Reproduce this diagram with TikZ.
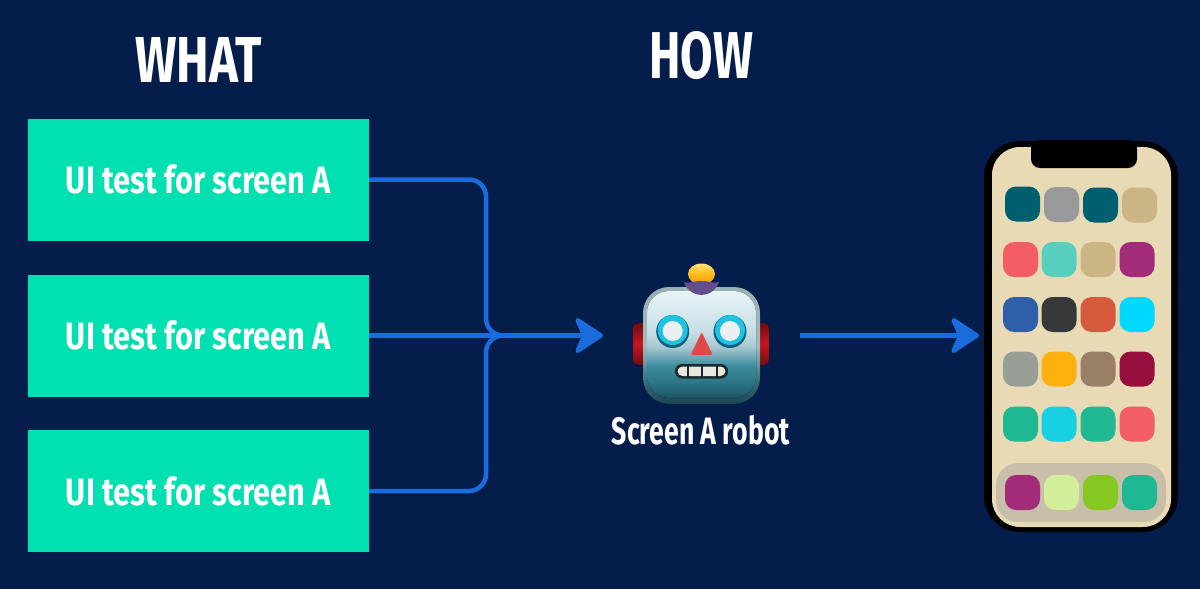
\documentclass[tikz,border=0pt]{standalone}
\usepackage{fontspec}
\setmainfont{Fira Sans}
\usetikzlibrary{arrows.meta}
\definecolor{bgc}{HTML}{051D4B}
\definecolor{boxc}{HTML}{00E0B1}
\definecolor{linec}{HTML}{1A6BDB}
\definecolor{cream}{HTML}{E8DAB5}
\definecolor{ha}{HTML}{1E5564}
\definecolor{hb}{HTML}{2C7486}
\definecolor{hc}{HTML}{3C8C9E}
\definecolor{hd}{HTML}{A8C8D0}
\definecolor{he}{HTML}{C8DEE4}
\definecolor{hf}{HTML}{E6F4F7}
\definecolor{oa}{HTML}{1A4550}
\definecolor{ob}{HTML}{3F7A88}
\definecolor{oc}{HTML}{A4BCC0}
\definecolor{oe}{HTML}{96B0B4}
\definecolor{ra}{HTML}{6E0C10}
\definecolor{rb}{HTML}{C8161C}
\definecolor{ya}{HTML}{F49A10}
\definecolor{yb}{HTML}{FFBE1E}
\definecolor{yc}{HTML}{FFE27A}
\pgfdeclareverticalshading{headout}{100bp}{color(0bp)=(oa);color(25bp)=(oa);color(37bp)=(ob);color(50bp)=(oc);color(75bp)=(oe);color(100bp)=(oe)}
\pgfdeclareverticalshading{headin}{100bp}{color(0bp)=(ha);color(25bp)=(ha);color(32bp)=(hb);color(40bp)=(hc);color(49bp)=(hd);color(56bp)=(he);color(75bp)=(hf);color(100bp)=(hf)}
\pgfdeclareverticalshading{orangeball}{100bp}{color(0bp)=(ya);color(25bp)=(ya);color(52bp)=(yb);color(75bp)=(yc);color(100bp)=(yc)}
\pgfdeclareverticalshading{eardark}{100bp}{color(0bp)=(ra);color(25bp)=(ra);color(50bp)=(rb);color(75bp)=(ra);color(100bp)=(ra)}
\tikzset{
  testbox/.style={fill=boxc,minimum width=341pt,minimum height=122pt,inner sep=0pt,text=white},
  conn/.style={draw=linec,line width=4.5pt},
  tip/.style={-{Stealth[length=32pt,width=42pt,inset=9pt,round]}},
  lbl/.style={text=white,inner sep=0pt},
}
\newcommand{\fit}[3]{\resizebox{#1pt}{#2pt}{#3}}
\begin{document}
\begin{tikzpicture}[x=1pt,y=-1pt]
\useasboundingbox (0,0) rectangle (1200,589);
\fill[bgc] (0,0) rectangle (1200,589);
% titles
\node[lbl] (what) at (198.5,60) {\fit{127}{45}{\bfseries WHAT}};
\node[lbl] (how) at (701,56) {\fit{104}{47}{\bfseries HOW}};
% boxes
\node[testbox] (a) at (198.5,179.5) {\fit{265}{29}{\bfseries UI test for screen A}};
\node[testbox] (b) at (198.5,335.5) {\fit{265}{29}{\bfseries UI test for screen A}};
\node[testbox] (c) at (198.5,491) {\fit{265}{29}{\bfseries UI test for screen A}};
% connectors
\coordinate (rin) at (603,335.5);
\coordinate (rout) at (800,335.5);
\coordinate (pin) at (979,335.5);
\draw[conn,rounded corners=17pt] (a.east) -- (486,179.5) -- (486,335.5) -- (520,335.5);
\draw[conn,rounded corners=17pt] (c.east) -- (486,491) -- (486,335.5) -- (520,335.5);
\draw[conn,tip] (b.east) -- (rin);
\draw[conn,tip] (rout) -- (pin);
% robot
\fill[shading=eardark,rounded corners=5pt] (633,323) rectangle (655,365);
\fill[shading=eardark,rounded corners=5pt] (748,323) rectangle (769,365);
\fill[shading=headout,rounded corners=26pt] (643,287) rectangle (760,404);
\fill[shading=headin,rounded corners=22pt] (647,291) rectangle (756,398);
\shade[shading=orangeball] (701.5,274) ellipse (13.5pt and 10.5pt);
\fill[color={rgb,255:red,98;green,78;blue,140}] (684,282) .. controls (690,284) and (692,281) .. (701.5,281) .. controls (711,281) and (713,284) .. (719,282) .. controls (716,291) and (708,295) .. (701.5,295) .. controls (695,295) and (687,291) .. (684,282) -- cycle;
\foreach \cx in {672.7,730}{
  \fill[color={rgb,255:red,15;green,95;blue,125}] (\cx,331.5) circle (16.5pt);
  \fill[color={rgb,255:red,30;green,195;blue,225}] (\cx,330) circle (15pt);
  \fill[color={rgb,255:red,236;green,240;blue,242}] (\cx,331) circle (10pt);
}
\fill[color={rgb,255:red,222;green,72;blue,72},rounded corners=1.5pt] (701.7,332) -- (712.7,355) -- (690.7,355) -- cycle;
\fill[color={rgb,255:red,25;green,40;blue,45},rounded corners=7pt] (675,364) rectangle (728,378.5);
\fill[color={rgb,255:red,232;green,232;blue,222},rounded corners=5pt] (677.5,366.5) rectangle (725.5,376);
\foreach \tx in {687.5,701.7,716.5}{
  \draw[color={rgb,255:red,25;green,40;blue,45},line width=2pt] (\tx,365) -- (\tx,377.5);
}
\node[lbl] (label) at (701,430) {\fit{178}{29}{\bfseries Screen A robot}};
% phone
\fill[black,rounded corners=36pt] (984,141) rectangle (1178,532);
\fill[cream,rounded corners=28pt] (992,147) rectangle (1171,527);
\fill[black,rounded corners=9pt] (1031,140) rectangle (1137,168);
\fill[black] (1031,146) rectangle (1137,155);
\fill[color={rgb,255:red,200;green,190;blue,170},rounded corners=22pt] (996,463) rectangle (1166,522);
\foreach \px/\py/\pc in {
1022.5/204/005F6E,1061.5/204.5/9A9A9C,1100.5/205/005F6E,1139.5/205/CBB585,
1020.5/259.5/F25E62,1059/259.5/58CFBE,1098/259.5/CBB585,1137/259.5/A32C78,
1020.5/314.5/2F5FA8,1059/314.5/37383A,1098/314.5/D85A3C,1137/314.5/00D9FF,
1020.5/369/979E95,1059/369/FDB00E,1098/369/9A7F68,1137/369/950E3E,
1020.5/424/20B892,1059/424/17D0E2,1098/424/20B892,1137/424/F25E62,
1022.5/492.5/A32C78,1061.5/492.5/D2EE9B,1100.5/492.5/86C822,1139.5/492.5/20B892}{
  \definecolor{tmpc}{HTML}{\pc}
  \fill[tmpc,rounded corners=11pt] (\px-17.5,\py-17.5) rectangle (\px+17.5,\py+17.5);
}
\end{tikzpicture}
\end{document}
